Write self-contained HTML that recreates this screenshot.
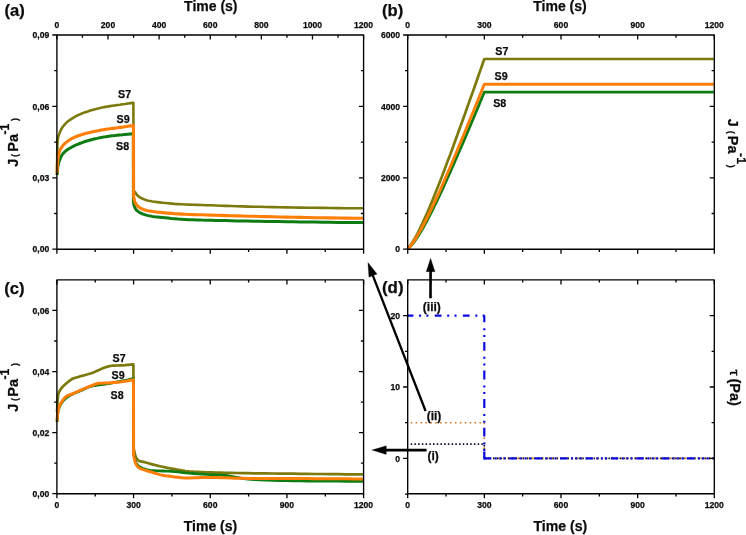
<!DOCTYPE html>
<html lang="en"><head><meta charset="utf-8"><title>Creep and recovery curves</title>
<style>
html,body{margin:0;padding:0;background:#fff;}
body{width:746px;height:535px;overflow:hidden;}
svg{display:block;}
text{font-family:"Liberation Sans", Arial, Helvetica, sans-serif;}
</style></head><body>
<svg width="746" height="535" viewBox="0 0 746 535" font-family='"Liberation Sans", Arial, Helvetica, sans-serif' font-weight="bold" fill="#0c0c0c" stroke="#0c0c0c" stroke-width="0.25" stroke-linejoin="round">
<rect width="746" height="535" fill="#fff" stroke="none"/>
<polyline points="57.1,174.0 57.1,172.5 57.1,167.1 57.2,158.4 57.3,149.7 57.4,143.7 57.6,141.3 57.8,139.6 58.0,138.0 58.3,136.7 58.6,135.6 59.0,134.7 59.4,133.6 59.8,132.4 60.3,131.2 60.9,130.1 61.4,129.0 62.0,128.0 62.7,127.0 63.4,126.0 64.2,125.1 65.0,124.1 65.8,123.3 66.7,122.4 67.6,121.6 68.6,120.8 69.7,120.1 70.8,119.3 71.9,118.6 73.1,117.8 74.3,117.1 75.6,116.4 77.0,115.7 78.4,115.0 79.8,114.4 81.3,113.7 82.8,113.1 84.4,112.5 86.1,111.9 87.8,111.4 89.5,110.8 91.4,110.3 93.2,109.8 95.1,109.3 97.1,108.7 99.1,108.3 101.2,107.8 103.4,107.3 105.6,106.9 107.8,106.5 110.1,106.1 112.5,105.7 114.9,105.4 117.4,105.0 119.9,104.7 122.5,104.3 125.1,104.0 127.8,103.5 130.6,103.1 133.4,102.7 133.5,191.0 133.5,191.0 133.6,191.0 133.8,191.1 134.1,191.3 134.5,191.6 135.0,192.0 135.6,192.9 136.3,194.1 137.2,195.2 138.1,196.0 139.2,196.9 140.4,197.6 141.7,198.3 143.2,199.0 144.8,199.6 146.5,200.2 148.4,200.7 150.4,201.1 152.5,201.5 154.8,201.8 157.2,202.1 159.7,202.4 162.4,202.7 165.3,203.0 168.2,203.3 171.4,203.6 174.6,203.9 178.1,204.1 181.6,204.3 185.4,204.5 189.3,204.6 193.3,204.8 197.5,204.9 201.8,205.0 206.3,205.2 211.0,205.3 215.8,205.5 220.8,205.7 225.9,205.9 231.2,206.0 236.6,206.2 242.3,206.4 248.0,206.6 254.0,206.7 260.1,206.8 266.3,207.0 272.8,207.1 279.4,207.3 286.2,207.4 293.1,207.5 300.2,207.6 307.5,207.7 314.9,207.8 322.5,207.9 330.3,208.0 338.3,208.1 346.4,208.2 354.7,208.2 363.2,208.3" fill="none" stroke="#7c7a0c" stroke-width="2.6" stroke-linejoin="round" />
<polyline points="57.1,175.0 57.1,174.9 57.1,174.4 57.2,173.7 57.3,172.5 57.4,171.0 57.6,169.2 57.8,167.4 58.0,165.8 58.3,164.4 58.6,163.1 59.0,161.9 59.4,160.7 59.8,159.6 60.3,158.4 60.8,157.2 61.4,156.1 62.0,155.0 62.7,154.0 63.4,153.2 64.2,152.3 65.0,151.6 65.8,150.9 66.7,150.2 67.6,149.6 68.6,148.9 69.7,148.3 70.7,147.7 71.9,147.0 73.1,146.4 74.3,145.8 75.6,145.2 76.9,144.7 78.3,144.1 79.8,143.5 81.3,142.9 82.8,142.3 84.4,141.7 86.0,141.2 87.7,140.7 89.5,140.2 91.3,139.7 93.2,139.3 95.1,138.8 97.1,138.4 99.1,137.9 101.2,137.5 103.3,137.1 105.5,136.8 107.7,136.4 110.0,136.1 112.4,135.8 114.8,135.6 117.3,135.3 119.8,135.0 122.4,134.8 125.0,134.5 127.7,134.2 130.5,133.9 133.3,133.6 133.4,201.4 133.4,201.6 133.5,202.2 133.7,203.4 134.0,204.9 134.4,206.3 134.9,207.7 135.5,208.9 136.2,209.8 137.1,210.6 138.0,211.4 139.1,212.2 140.3,212.9 141.6,213.5 143.1,214.1 144.7,214.6 146.4,215.1 148.3,215.6 150.3,216.0 152.4,216.4 154.7,216.7 157.1,216.9 159.6,217.2 162.3,217.5 165.2,217.8 168.1,218.1 171.3,218.5 174.6,218.8 178.0,219.1 181.6,219.3 185.3,219.5 189.2,219.7 193.2,219.8 197.4,219.9 201.7,220.1 206.2,220.2 210.9,220.3 215.7,220.4 220.7,220.5 225.8,220.6 231.1,220.7 236.6,220.9 242.2,221.0 248.0,221.1 253.9,221.2 260.0,221.3 266.3,221.4 272.7,221.5 279.4,221.6 286.1,221.7 293.1,221.8 300.2,221.9 307.5,222.0 314.9,222.1 322.5,222.2 330.3,222.3 338.3,222.4 346.4,222.4 354.7,222.5 363.2,222.6" fill="none" stroke="#0e7c12" stroke-width="3.0" stroke-linejoin="round" />
<polyline points="57.1,173.0 57.1,172.7 57.1,171.8 57.2,170.1 57.3,167.6 57.4,164.7 57.6,162.0 57.8,159.7 58.0,157.6 58.3,155.8 58.6,154.4 59.0,153.1 59.4,151.8 59.8,150.6 60.3,149.5 60.9,148.6 61.4,147.7 62.0,146.8 62.7,145.9 63.4,145.0 64.2,144.2 65.0,143.4 65.8,142.6 66.7,141.9 67.7,141.2 68.7,140.5 69.7,139.8 70.8,139.2 71.9,138.5 73.1,137.9 74.4,137.3 75.6,136.7 77.0,136.2 78.4,135.7 79.8,135.2 81.3,134.7 82.9,134.2 84.5,133.7 86.1,133.3 87.8,132.9 89.6,132.5 91.4,132.1 93.3,131.7 95.2,131.3 97.2,130.9 99.2,130.5 101.3,130.1 103.4,129.7 105.6,129.4 107.9,129.0 110.2,128.7 112.5,128.4 115.0,128.1 117.4,127.8 120.0,127.4 122.6,127.1 125.2,126.7 127.9,126.3 130.7,125.9 133.5,125.5 133.6,196.1 133.6,196.3 133.7,196.9 133.9,198.0 134.2,199.5 134.6,201.0 135.1,202.3 135.7,203.6 136.4,204.7 137.3,205.6 138.2,206.5 139.3,207.4 140.5,208.2 141.8,208.8 143.3,209.4 144.9,209.9 146.6,210.4 148.5,210.8 150.5,211.1 152.6,211.5 154.9,211.8 157.3,212.1 159.8,212.3 162.5,212.6 165.3,212.9 168.3,213.1 171.4,213.4 174.7,213.7 178.1,213.9 181.7,214.1 185.5,214.3 189.3,214.5 193.4,214.6 197.5,214.7 201.9,214.8 206.4,215.0 211.0,215.1 215.9,215.3 220.8,215.4 226.0,215.6 231.2,215.7 236.7,215.9 242.3,216.0 248.1,216.2 254.0,216.3 260.1,216.5 266.4,216.6 272.8,216.8 279.4,217.0 286.2,217.1 293.1,217.3 300.2,217.4 307.5,217.5 314.9,217.7 322.6,217.8 330.3,217.9 338.3,218.0 346.4,218.1 354.7,218.2 363.2,218.3" fill="none" stroke="#ff7e08" stroke-width="3.1" stroke-linejoin="round" />
<rect x="56.9" y="35.0" width="306.70" height="214.20" fill="none" stroke="#000" stroke-width="1.35"/>
<path d="M56.90 35.0v4.6M108.02 35.0v4.6M159.13 35.0v4.6M210.25 35.0v4.6M261.37 35.0v4.6M312.48 35.0v4.6M363.60 35.0v4.6M82.46 35.0v2.7M133.58 35.0v2.7M184.69 35.0v2.7M235.81 35.0v2.7M286.93 35.0v2.7M338.04 35.0v2.7" stroke="#000" stroke-width="1.3" fill="none"/>
<path d="M56.90 249.2v4.6M133.58 249.2v4.6M210.25 249.2v4.6M286.93 249.2v4.6M363.60 249.2v4.6M95.24 249.2v2.7M171.91 249.2v2.7M248.59 249.2v2.7M325.26 249.2v2.7" stroke="#000" stroke-width="1.3" fill="none"/>
<path d="M56.9 249.20h-4.6M56.9 177.80h-4.6M56.9 106.40h-4.6M56.9 35.00h-4.6M56.9 213.50h-2.7M56.9 142.10h-2.7M56.9 70.70h-2.7" stroke="#000" stroke-width="1.3" fill="none"/>
<path d="M363.6 177.80h-4.6M363.6 106.40h-4.6M363.6 213.50h-2.7M363.6 142.10h-2.7M363.6 70.70h-2.7" stroke="#000" stroke-width="1.3" fill="none"/>
<text x="56.90" y="27.90" font-size="8.6" text-anchor="middle" >0</text>
<text x="108.02" y="27.90" font-size="8.6" text-anchor="middle" >200</text>
<text x="159.13" y="27.90" font-size="8.6" text-anchor="middle" >400</text>
<text x="210.25" y="27.90" font-size="8.6" text-anchor="middle" >600</text>
<text x="261.37" y="27.90" font-size="8.6" text-anchor="middle" >800</text>
<text x="312.48" y="27.90" font-size="8.6" text-anchor="middle" >1000</text>
<text x="363.60" y="27.90" font-size="8.6" text-anchor="middle" >1200</text>
<text x="49.30" y="252.30" font-size="8.6" text-anchor="end" >0,00</text>
<text x="49.30" y="180.90" font-size="8.6" text-anchor="end" >0,03</text>
<text x="49.30" y="109.50" font-size="8.6" text-anchor="end" >0,06</text>
<text x="49.30" y="38.10" font-size="8.6" text-anchor="end" >0,09</text>
<text x="210.80" y="10.80" font-size="14" text-anchor="middle" >Time (s)</text>
<text x="4.40" y="15.80" font-size="16.6" text-anchor="start" >(a)</text>
<text x="118.00" y="97.70" font-size="10.7" text-anchor="start" >S7</text>
<text x="116.60" y="123.30" font-size="10.7" text-anchor="start" >S9</text>
<text x="116.00" y="149.70" font-size="10.7" text-anchor="start" >S8</text>
<polyline points="407.7,249.2 409.6,246.6 411.5,243.8 413.4,240.7 415.4,237.3 417.3,233.8 419.2,230.1 421.1,226.2 423.0,222.1 424.9,217.9 426.9,213.6 428.8,209.2 430.7,204.6 432.6,200.0 434.5,195.3 436.4,190.5 438.4,185.6 440.3,180.7 442.2,175.7 444.1,170.7 446.0,165.6 447.9,160.5 449.9,155.4 451.8,150.2 453.7,145.0 455.6,139.7 457.5,134.4 459.4,129.2 461.4,123.8 463.3,118.5 465.2,113.2 467.1,107.8 469.0,102.4 470.9,97.0 472.9,91.6 474.8,86.2 476.7,80.8 478.6,75.3 480.5,69.9 482.4,64.5 484.3,59.0 713.8,59.0" fill="none" stroke="#7c7a0c" stroke-width="2.7" stroke-linejoin="round" />
<polyline points="407.7,249.2 409.6,247.3 411.5,245.1 413.4,242.8 415.4,240.1 417.3,237.3 419.2,234.4 421.1,231.2 423.0,228.0 424.9,224.6 426.9,221.0 428.8,217.4 430.7,213.7 432.6,209.9 434.5,206.0 436.4,202.1 438.4,198.0 440.3,194.0 442.2,189.8 444.1,185.7 446.0,181.4 447.9,177.2 449.9,172.9 451.8,168.5 453.7,164.2 455.6,159.8 457.5,155.4 459.4,151.0 461.4,146.5 463.3,142.1 465.2,137.6 467.1,133.1 469.0,128.6 470.9,124.1 472.9,119.5 474.8,115.0 476.7,110.5 478.6,105.9 480.5,101.3 482.4,96.8 484.3,92.2 713.8,92.2" fill="none" stroke="#0e7c12" stroke-width="2.8" stroke-linejoin="round" />
<polyline points="407.7,249.2 409.6,247.0 411.5,244.5 413.4,241.8 415.4,238.9 417.3,235.8 419.2,232.6 421.1,229.2 423.0,225.7 424.9,222.1 426.9,218.3 428.8,214.5 430.7,210.5 432.6,206.5 434.5,202.4 436.4,198.3 438.4,194.1 440.3,189.8 442.2,185.5 444.1,181.1 446.0,176.7 447.9,172.3 449.9,167.8 451.8,163.3 453.7,158.8 455.6,154.2 457.5,149.7 459.4,145.1 461.4,140.4 463.3,135.8 465.2,131.2 467.1,126.5 469.0,121.9 470.9,117.2 472.9,112.5 474.8,107.8 476.7,103.1 478.6,98.4 480.5,93.7 482.4,88.9 484.3,84.2 713.8,84.2" fill="none" stroke="#ff7e08" stroke-width="2.9" stroke-linejoin="round" />
<rect x="407.7" y="35.0" width="306.60" height="214.20" fill="none" stroke="#000" stroke-width="1.35"/>
<path d="M407.70 35.0v4.6M484.35 35.0v4.6M561.00 35.0v4.6M637.65 35.0v4.6M714.30 35.0v4.6M446.02 35.0v2.7M522.67 35.0v2.7M599.32 35.0v2.7M675.97 35.0v2.7" stroke="#000" stroke-width="1.3" fill="none"/>
<path d="M407.70 249.2v4.6M484.35 249.2v4.6M561.00 249.2v4.6M637.65 249.2v4.6M714.30 249.2v4.6M446.02 249.2v2.7M522.67 249.2v2.7M599.32 249.2v2.7M675.97 249.2v2.7" stroke="#000" stroke-width="1.3" fill="none"/>
<path d="M407.7 249.20h-4.6M407.7 177.80h-4.6M407.7 106.40h-4.6M407.7 35.00h-4.6M407.7 213.50h-2.7M407.7 142.10h-2.7M407.7 70.70h-2.7" stroke="#000" stroke-width="1.3" fill="none"/>
<path d="M714.3 177.80h-4.6M714.3 106.40h-4.6M714.3 213.50h-2.7M714.3 142.10h-2.7M714.3 70.70h-2.7" stroke="#000" stroke-width="1.3" fill="none"/>
<text x="407.70" y="27.90" font-size="8.6" text-anchor="middle" >0</text>
<text x="484.35" y="27.90" font-size="8.6" text-anchor="middle" >300</text>
<text x="561.00" y="27.90" font-size="8.6" text-anchor="middle" >600</text>
<text x="637.65" y="27.90" font-size="8.6" text-anchor="middle" >900</text>
<text x="714.30" y="27.90" font-size="8.6" text-anchor="middle" >1200</text>
<text x="400.10" y="252.30" font-size="8.6" text-anchor="end" >0</text>
<text x="400.10" y="180.90" font-size="8.6" text-anchor="end" >2000</text>
<text x="400.10" y="109.50" font-size="8.6" text-anchor="end" >4000</text>
<text x="400.10" y="38.10" font-size="8.6" text-anchor="end" >6000</text>
<text x="560.00" y="10.80" font-size="14" text-anchor="middle" >Time (s)</text>
<text x="382.00" y="16.40" font-size="16.6" text-anchor="start" >(b)</text>
<text x="495.30" y="55.00" font-size="10.7" text-anchor="start" >S7</text>
<text x="494.50" y="79.80" font-size="10.7" text-anchor="start" >S9</text>
<text x="493.20" y="106.50" font-size="10.7" text-anchor="start" >S8</text>
<polyline points="57.1,412.0 57.1,411.7 57.1,410.7 57.2,408.7 57.3,406.1 57.4,403.1 57.6,400.7 57.8,398.4 58.0,396.2 58.3,394.5 58.6,393.4 59.0,392.3 59.4,391.4 59.8,390.5 60.3,389.8 60.9,389.1 61.4,388.3 62.0,387.5 62.7,386.7 63.4,386.0 64.2,385.3 65.0,384.6 65.8,383.8 66.7,383.1 67.6,382.3 68.6,381.5 69.7,380.6 70.8,379.8 71.9,379.1 73.1,378.6 74.3,378.1 75.6,377.7 77.0,377.3 78.4,376.9 79.8,376.4 81.3,376.0 82.8,375.6 84.4,375.2 86.1,374.7 87.8,374.3 89.5,373.8 91.4,373.2 93.2,372.5 95.1,371.7 97.1,370.8 99.1,369.9 101.2,368.9 103.4,368.0 105.6,367.3 107.8,366.6 110.1,366.0 112.5,365.7 114.9,365.6 117.4,365.5 119.9,365.4 122.5,365.3 125.1,365.2 127.8,364.9 130.6,364.6 133.4,364.3 133.6,447.9 133.6,448.0 133.7,448.5 133.9,449.5 134.2,450.8 134.6,452.5 135.1,454.6 135.7,456.6 136.4,458.0 137.3,459.3 138.2,460.4 139.3,461.0 140.5,461.4 141.8,461.6 143.3,461.9 144.9,462.3 146.6,462.8 148.5,463.3 150.5,463.9 152.6,464.4 154.9,465.0 157.3,465.6 159.8,466.2 162.5,466.8 165.3,467.4 168.3,468.0 171.4,468.6 174.7,469.2 178.1,469.8 181.7,470.4 185.5,471.0 189.3,471.4 193.4,471.7 197.5,471.9 201.9,472.1 206.4,472.3 211.0,472.4 215.9,472.6 220.8,472.7 226.0,472.8 231.2,472.9 236.7,473.0 242.3,473.1 248.1,473.2 254.0,473.3 260.1,473.3 266.4,473.4 272.8,473.5 279.4,473.6 286.2,473.7 293.1,473.7 300.2,473.8 307.5,473.9 314.9,474.0 322.6,474.0 330.3,474.1 338.3,474.2 346.4,474.3 354.7,474.3 363.2,474.4" fill="none" stroke="#7c7a0c" stroke-width="2.7" stroke-linejoin="round" />
<polyline points="57.1,422.0 57.1,421.8 57.1,421.2 57.2,420.2 57.3,418.7 57.4,416.8 57.6,415.0 57.8,413.3 58.0,411.7 58.3,410.3 58.6,409.2 59.0,408.1 59.4,407.0 59.8,406.0 60.3,405.0 60.9,404.1 61.4,403.3 62.0,402.4 62.7,401.5 63.4,400.7 64.2,399.8 65.0,399.1 65.8,398.3 66.7,397.6 67.6,396.9 68.6,396.2 69.7,395.6 70.8,395.0 71.9,394.4 73.1,393.9 74.3,393.3 75.6,392.7 77.0,392.2 78.4,391.6 79.8,391.0 81.3,390.4 82.8,389.7 84.4,388.9 86.1,388.1 87.8,387.4 89.5,386.7 91.4,386.2 93.2,385.9 95.1,385.5 97.1,385.2 99.1,384.9 101.2,384.6 103.4,384.4 105.6,384.1 107.8,383.7 110.1,383.3 112.5,382.9 114.9,382.4 117.4,381.9 119.9,381.4 122.5,380.8 125.1,380.3 127.8,379.8 130.6,379.2 133.4,378.6 133.5,452.0 133.5,452.2 133.6,452.8 133.8,453.9 134.1,455.5 134.5,457.6 135.0,459.8 135.6,461.8 136.3,463.2 137.2,464.5 138.1,465.6 139.2,466.5 140.4,467.3 141.7,468.0 143.2,468.6 144.8,469.1 146.5,469.6 148.4,470.0 150.4,470.4 152.5,470.6 154.8,470.7 157.2,470.8 159.7,470.9 162.4,471.0 165.3,471.1 168.2,471.2 171.4,471.3 174.6,471.6 178.1,471.9 181.6,472.3 185.4,472.8 189.3,473.2 193.3,473.5 197.5,473.8 201.8,474.1 206.3,474.4 211.0,474.6 215.8,474.9 220.8,475.1 225.9,475.5 231.2,476.3 236.6,477.3 242.3,478.3 248.0,479.2 254.0,479.6 260.1,479.9 266.3,480.2 272.8,480.4 279.4,480.6 286.2,480.7 293.1,480.8 300.2,480.9 307.5,481.0 314.9,481.0 322.5,481.1 330.3,481.2 338.3,481.2 346.4,481.3 354.7,481.3 363.2,481.3" fill="none" stroke="#0e7c12" stroke-width="2.8" stroke-linejoin="round" />
<polyline points="57.1,421.0 57.1,420.8 57.1,420.2 57.2,419.2 57.3,417.6 57.4,415.8 57.6,414.0 57.8,412.4 58.0,410.9 58.3,409.5 58.6,408.4 59.0,407.2 59.4,406.1 59.8,405.1 60.3,404.1 60.9,403.2 61.4,402.2 62.0,401.3 62.7,400.3 63.4,399.4 64.2,398.4 65.0,397.6 65.8,396.8 66.7,396.2 67.7,395.6 68.7,395.2 69.7,394.8 70.8,394.4 71.9,394.0 73.1,393.5 74.4,393.0 75.6,392.4 77.0,391.8 78.4,391.2 79.8,390.5 81.3,389.9 82.9,389.2 84.5,388.5 86.1,387.8 87.8,387.1 89.6,386.4 91.4,385.7 93.3,385.0 95.2,384.2 97.2,383.6 99.2,383.3 101.3,383.2 103.4,383.1 105.6,383.0 107.9,382.9 110.2,382.7 112.5,382.6 115.0,382.4 117.4,382.2 120.0,381.9 122.6,381.6 125.2,381.2 127.9,380.8 130.7,380.3 133.5,379.8 133.6,454.9 133.6,455.0 133.7,455.5 133.9,456.5 134.2,457.8 134.6,459.5 135.1,461.6 135.7,463.6 136.4,464.9 137.3,466.1 138.2,467.2 139.3,468.0 140.5,468.6 141.8,469.2 143.3,469.6 144.9,470.1 146.6,470.7 148.5,471.3 150.5,471.9 152.6,472.5 154.9,473.2 157.3,473.9 159.8,474.6 162.5,475.2 165.3,475.7 168.3,476.1 171.4,476.5 174.7,476.9 178.1,477.3 181.7,477.7 185.5,477.9 189.3,477.9 193.4,477.8 197.5,477.7 201.9,477.6 206.4,477.5 211.0,477.5 215.9,477.6 220.8,477.7 226.0,477.8 231.2,478.0 236.7,478.2 242.3,478.3 248.1,478.4 254.0,478.4 260.1,478.5 266.4,478.5 272.8,478.5 279.4,478.5 286.2,478.6 293.1,478.6 300.2,478.6 307.5,478.6 314.9,478.7 322.6,478.7 330.3,478.7 338.3,478.8 346.4,478.8 354.7,478.9 363.2,478.9" fill="none" stroke="#ff7e08" stroke-width="3.0" stroke-linejoin="round" />
<rect x="56.9" y="279.9" width="306.70" height="213.80" fill="none" stroke="#000" stroke-width="1.35"/>
<path d="M56.90 279.9v4.6M133.58 279.9v4.6M210.25 279.9v4.6M286.93 279.9v4.6M363.60 279.9v4.6M95.24 279.9v2.7M171.91 279.9v2.7M248.59 279.9v2.7M325.26 279.9v2.7" stroke="#000" stroke-width="1.3" fill="none"/>
<path d="M56.90 493.7v4.6M133.58 493.7v4.6M210.25 493.7v4.6M286.93 493.7v4.6M363.60 493.7v4.6M95.24 493.7v2.7M171.91 493.7v2.7M248.59 493.7v2.7M325.26 493.7v2.7" stroke="#000" stroke-width="1.3" fill="none"/>
<path d="M56.9 493.70h-4.6M56.9 432.61h-4.6M56.9 371.53h-4.6M56.9 310.44h-4.6M56.9 463.16h-2.7M56.9 402.07h-2.7M56.9 340.99h-2.7" stroke="#000" stroke-width="1.3" fill="none"/>
<path d="M363.6 432.61h-4.6M363.6 371.53h-4.6M363.6 310.44h-4.6M363.6 463.16h-2.7M363.6 402.07h-2.7M363.6 340.99h-2.7" stroke="#000" stroke-width="1.3" fill="none"/>
<text x="56.90" y="508.00" font-size="8.6" text-anchor="middle" >0</text>
<text x="133.58" y="508.00" font-size="8.6" text-anchor="middle" >300</text>
<text x="210.25" y="508.00" font-size="8.6" text-anchor="middle" >600</text>
<text x="286.93" y="508.00" font-size="8.6" text-anchor="middle" >900</text>
<text x="363.60" y="508.00" font-size="8.6" text-anchor="middle" >1200</text>
<text x="49.30" y="496.80" font-size="8.6" text-anchor="end" >0,00</text>
<text x="49.30" y="435.71" font-size="8.6" text-anchor="end" >0,02</text>
<text x="49.30" y="374.63" font-size="8.6" text-anchor="end" >0,04</text>
<text x="49.30" y="313.54" font-size="8.6" text-anchor="end" >0,06</text>
<text x="210.50" y="530.60" font-size="14" text-anchor="middle" >Time (s)</text>
<text x="4.30" y="293.70" font-size="16.6" text-anchor="start" >(c)</text>
<text x="112.60" y="362.40" font-size="10.7" text-anchor="start" >S7</text>
<text x="111.50" y="378.50" font-size="10.7" text-anchor="start" >S9</text>
<text x="110.50" y="399.00" font-size="10.7" text-anchor="start" >S8</text>
<path d="M410.7 422.7H484.3V458.4H714.3" fill="none" stroke="#d6761c" stroke-width="1.6" stroke-dasharray="1.6 3.31"/>
<path d="M410.7 444.1H484.3V458.4H714.3" fill="none" stroke="#0b0b22" stroke-width="1.7" stroke-dasharray="1.5 2.22"/>
<path d="M407.7 315.6H485.4" fill="none" stroke="#0a0ae0" stroke-width="2.2" stroke-dasharray="6.7 5.7 2 5.3 2 6.4" stroke-dashoffset="1.0"/>
<path d="M484.3 315.6V451" fill="none" stroke="#0a0ae0" stroke-width="2.2" stroke-dasharray="8.9 6 2 4.7 2 5" stroke-dashoffset="2.3"/>
<path d="M484.3 451.5V459.5" fill="none" stroke="#0a0ae0" stroke-width="2.2"/>
<path d="M483.9 458.4H714.3" fill="none" stroke="#0a0ae0" stroke-width="2.2" stroke-dasharray="7.4 3.6 1.8 2.6 1.8 2.6 1.8 3.8"/>
<rect x="407.7" y="279.9" width="306.60" height="213.80" fill="none" stroke="#000" stroke-width="1.35"/>
<path d="M407.70 279.9v4.6M484.35 279.9v4.6M561.00 279.9v4.6M637.65 279.9v4.6M714.30 279.9v4.6M446.02 279.9v2.7M522.67 279.9v2.7M599.32 279.9v2.7M675.97 279.9v2.7" stroke="#000" stroke-width="1.3" fill="none"/>
<path d="M407.70 493.7v4.6M484.35 493.7v4.6M561.00 493.7v4.6M637.65 493.7v4.6M714.30 493.7v4.6M446.02 493.7v2.7M522.67 493.7v2.7M599.32 493.7v2.7M675.97 493.7v2.7" stroke="#000" stroke-width="1.3" fill="none"/>
<path d="M407.7 458.40h-4.6M407.7 387.00h-4.6M407.7 315.60h-4.6M407.7 494.10h-2.7M407.7 422.70h-2.7M407.7 351.30h-2.7" stroke="#000" stroke-width="1.3" fill="none"/>
<path d="M714.3 458.40h-4.6M714.3 387.00h-4.6M714.3 315.60h-4.6M714.3 422.70h-2.7M714.3 351.30h-2.7" stroke="#000" stroke-width="1.3" fill="none"/>
<text x="407.70" y="508.00" font-size="8.6" text-anchor="middle" >0</text>
<text x="484.35" y="508.00" font-size="8.6" text-anchor="middle" >300</text>
<text x="561.00" y="508.00" font-size="8.6" text-anchor="middle" >600</text>
<text x="637.65" y="508.00" font-size="8.6" text-anchor="middle" >900</text>
<text x="714.30" y="508.00" font-size="8.6" text-anchor="middle" >1200</text>
<text x="400.10" y="461.50" font-size="8.6" text-anchor="end" >0</text>
<text x="400.10" y="390.10" font-size="8.6" text-anchor="end" >10</text>
<text x="400.10" y="318.70" font-size="8.6" text-anchor="end" >20</text>
<text x="560.40" y="530.60" font-size="14.1" text-anchor="middle" >Time (s)</text>
<text x="382.00" y="293.00" font-size="16.9" text-anchor="start" >(d)</text>
<text x="431.80" y="311.30" font-size="12" text-anchor="middle" >(iii)</text>
<text x="434.00" y="420.30" font-size="12" text-anchor="middle" >(ii)</text>
<text x="433.20" y="460.00" font-size="12" text-anchor="middle" >(i)</text>
<line x1="426.6" y1="450.1" x2="384.3" y2="450.1" stroke="#000" stroke-width="2.9"/>
<polygon points="371.8,450.1 386.3,445.7 386.3,454.5" fill="#000"/>
<line x1="430.5" y1="298.3" x2="430.6" y2="269.7" stroke="#000" stroke-width="2.6"/>
<polygon points="430.6,258.2 435.0,271.7 426.2,271.7" fill="#000"/>
<line x1="425.6" y1="411.0" x2="372.2" y2="273.8" stroke="#000" stroke-width="2.3"/>
<polygon points="367.9,262.6 377.1,274.1 368.9,277.2" fill="#000"/>
<text transform="translate(18.30,166.70) rotate(-90)" font-size="14.3" >J</text>
<text transform="translate(18.10,157.10) rotate(-90)" font-size="9" >(</text>
<text transform="translate(18.30,151.70) rotate(-90)" font-size="14.5" >Pa</text>
<text transform="translate(8.90,134.50) rotate(-90)" font-size="12.3" >-1</text>
<text transform="translate(18.10,121.00) rotate(-90)" font-size="9" >)</text>
<text transform="translate(18.30,411.70) rotate(-90)" font-size="14.3" >J</text>
<text transform="translate(18.10,401.00) rotate(-90)" font-size="9" >(</text>
<text transform="translate(18.30,396.70) rotate(-90)" font-size="14.5" >Pa</text>
<text transform="translate(8.90,379.50) rotate(-90)" font-size="12.3" >-1</text>
<text transform="translate(18.10,366.00) rotate(-90)" font-size="9" >)</text>
<text transform="translate(727.50,118.80) rotate(90)" font-size="14.3" >J</text>
<text transform="translate(727.70,130.80) rotate(90)" font-size="9" >(</text>
<text transform="translate(727.50,135.80) rotate(90)" font-size="14.5" >Pa</text>
<text transform="translate(736.90,153.10) rotate(90)" font-size="12.3" >-1</text>
<text transform="translate(727.70,164.80) rotate(90)" font-size="9" >)</text>
<text transform="translate(729.90,369.50) rotate(90)" font-size="15.5" font-weight="normal" stroke-width="0.5" style="font-family:'Liberation Serif','DejaVu Serif',serif">τ</text>
<text transform="translate(729.70,378.40) rotate(90)" font-size="14.5" >(Pa)</text>
</svg>
</body></html>
